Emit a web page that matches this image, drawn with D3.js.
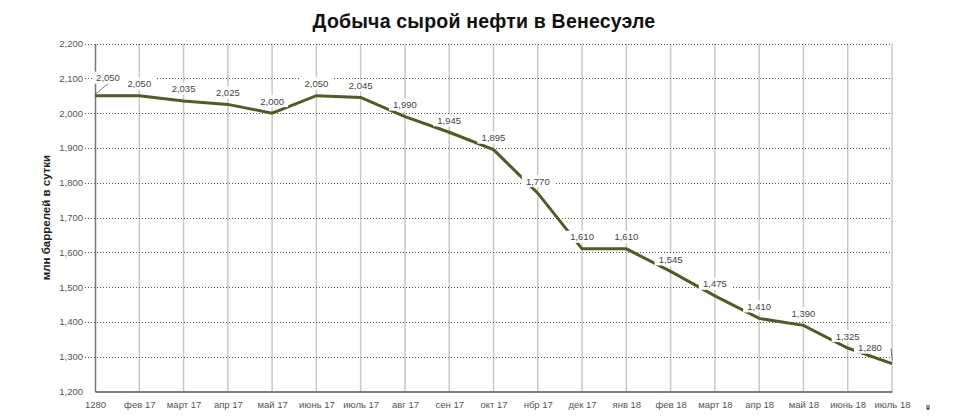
<!DOCTYPE html>
<html><head><meta charset="utf-8">
<script src="https://cdn.jsdelivr.net/npm/d3@7"></script>
<style>body{margin:0;background:#fff;} svg{display:block;font-family:"Liberation Sans",Arial,sans-serif;}</style>
</head><body><svg id="c" width="956" height="418"></svg>
<script>
const categories = ["1280","фев 17","март 17","апр 17","май 17","июнь 17","июль 17","авг 17","сен 17","окт 17","нбр 17","дек 17","янв 18","фев 18","март 18","апр 18","май 18","июнь 18","июль 18"];
const values = [2050,2050,2035,2025,2000,2050,2045,1990,1945,1895,1770,1610,1610,1545,1475,1410,1390,1325,1280];
const yTicks = [1200,1300,1400,1500,1600,1700,1800,1900,2000,2100,2200];
const title = "Добыча сырой нефти в Венесуэле";
const yTitle = "млн баррелей в сутки";

const svg = d3.select("#c");
const L = 95, R = 892, T = 43.5, B = 391.5;
const x = d3.scalePoint().domain(categories).range([L, R]);
const y = d3.scaleLinear().domain([1200, 2200]).range([B, T]);
const fmt = d3.format(",");

svg.append("text").attr("x", 484).attr("y", 28).attr("text-anchor", "middle")
  .attr("font-size", 19.5).attr("font-weight", "bold").attr("fill", "#111").attr("letter-spacing", 0.2).text(title);

// vertical grid
svg.append("g").selectAll("line").data(categories.slice(1)).join("line")
  .attr("x1", d => x(d)).attr("x2", d => x(d)).attr("y1", T).attr("y2", B)
  .attr("stroke", "#c8c8c8").attr("stroke-width", 1.5);
// horizontal grid dotted
svg.append("g").selectAll("line").data(yTicks.slice(1)).join("line")
  .attr("x1", L - 10).attr("x2", R).attr("y1", d => Math.round(y(d)) + 0.5).attr("y2", d => Math.round(y(d)) + 0.5)
  .attr("stroke", "#555").attr("stroke-width", 1).attr("stroke-dasharray", "1,2");

// y axis
const yAxis = d3.axisLeft(y).tickValues(yTicks).tickFormat(fmt).tickSize(0).tickPadding(12);
const gy = svg.append("g").attr("transform", `translate(${L},0)`).call(yAxis);
gy.select(".domain").attr("stroke", "#777").attr("stroke-width", 1.5);
gy.selectAll("text").attr("font-size", 9.5).attr("fill", "#555").attr("font-family", "Liberation Sans, Arial, sans-serif");

// x axis
const xAxis = d3.axisBottom(x).tickSize(0).tickPadding(10);
const gx = svg.append("g").attr("transform", `translate(0,${B})`).call(xAxis);
gx.select(".domain").attr("stroke", "#555").attr("stroke-width", 1.5);
gx.selectAll("text").attr("font-size", 9.5).attr("fill", "#555").attr("font-family", "Liberation Sans, Arial, sans-serif");

svg.append("text").attr("transform", `translate(50,${(T + B) / 2}) rotate(-90)`)
  .attr("text-anchor", "middle").attr("font-size", 11.5).attr("font-weight", "bold").attr("fill", "#222").text(yTitle);

// line
const data = categories.map((c, i) => ({c, v: values[i], i}));
svg.append("path").datum(data)
  .attr("d", d3.line().x(d => x(d.c)).y(d => y(d.v)))
  .attr("fill", "none").attr("stroke", "#4e5e22").attr("stroke-width", 3).attr("stroke-linejoin", "miter");

// labels
const n = data.length;
const lbl = svg.append("g").selectAll("g").data(data).join("g")
  .attr("transform", d => {
    let dx = 0, dy = -12;
    if (d.i === 0) { dx = 13; dy = -18; }
    if (d.i === n - 1) { dx = -22; dy = -16; }
    return `translate(${x(d.c) + dx},${y(d.v) + dy})`;
  });
lbl.append("rect").attr("x", -16).attr("y", -6).attr("width", 32).attr("height", 12).attr("fill", "#fff");
lbl.append("text").attr("text-anchor", "middle").attr("y", 3.5).attr("font-size", 9.5).attr("fill", "#444").text(d => fmt(d.v));

// leader lines
svg.append("line").attr("x1", x(categories[0]) + 1).attr("y1", y(values[0]) - 2)
  .attr("x2", x(categories[0]) + 13).attr("y2", y(values[0]) - 12).attr("stroke", "#555").attr("stroke-width", 0.8);
svg.append("line").attr("x1", x(categories[n - 1]) - 1).attr("y1", y(values[n - 1]) - 15)
  .attr("x2", x(categories[n - 1]) + 0.5).attr("y2", y(values[n - 1]) - 3).attr("stroke", "#555").attr("stroke-width", 0.8);

// small icon bottom right
svg.append("rect").attr("x", 926).attr("y", 405).attr("width", 4).attr("height", 4).attr("fill", "#999");
svg.append("rect").attr("x", 927).attr("y", 408).attr("width", 2).attr("height", 2).attr("fill", "#d22");
</script></body></html>
